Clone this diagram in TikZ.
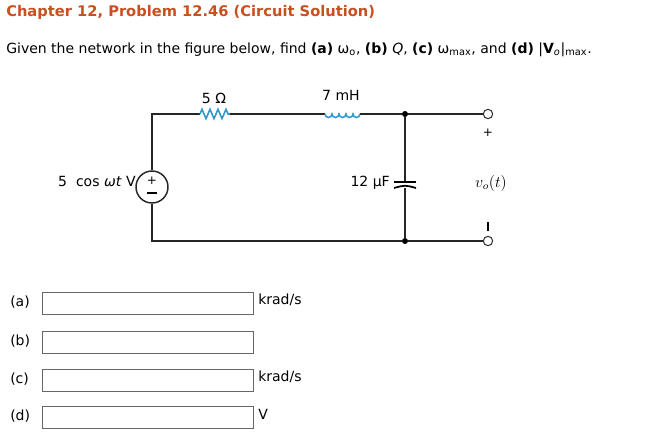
\documentclass[tikz,border=0pt]{standalone}
\usepackage{fontspec}
\setmainfont{DejaVu Sans}
\usetikzlibrary{decorations.pathmorphing}
\definecolor{ttl}{HTML}{C8501E}
\definecolor{comp}{HTML}{3399CC}
\begin{document}
\begin{tikzpicture}[x=0.75pt,y=-0.75pt,
  wire/.style={line width=1.3pt,black!85},
  lbl/.style={font=\fontsize{10.5}{12}\selectfont,inner sep=0},
  ansbox/.style={draw=black!60,line width=0.6pt,minimum width=158.25pt,minimum height=16.5pt,anchor=west,inner sep=0},
  term/.style={circle,draw=black!80,line width=0.8pt,fill=white,minimum size=7pt,inner sep=0},
  dotn/.style={circle,fill=black,minimum size=4.5pt,inner sep=0}]
\useasboundingbox (0,0) rectangle (665,443);
\node[anchor=west,text=ttl,font=\bfseries\fontsize{11}{13}\selectfont,inner sep=0] (title) at (6,12) {Chapter 12, Problem 12.46 (Circuit Solution)};
\node[anchor=west,font=\fontsize{10.5}{12}\selectfont,inner sep=0] (q) at (6,50) {Given the network in the figure below, find \textbf{(a)} ω\textsubscript{o}, \textbf{(b)} \textit{Q}, \textbf{(c)} ω\textsubscript{max}, and \textbf{(d)} |\textbf{V}\textsubscript{\textit{o}}|\textsubscript{max}.};
% circuit
\coordinate (tl) at (152,114); \coordinate (bl) at (152,241);
\node[dotn] (dt) at (405,114) {}; \node[dotn] (db) at (405,241) {};
\node[term] (tt) at (488,114) {}; \node[term] (tb) at (488,241) {};
\node[circle,draw=black!85,line width=1.1pt,minimum size=24pt,inner sep=0] (src) at (152,187) {};
\node[font=\fontsize{9}{10}\selectfont,inner sep=0] at (152,181) {+};
\draw[line width=0.9pt] (147,193) -- (157,193);
\coordinate (r1) at (200,114); \coordinate (r2) at (230,114);
\coordinate (l1) at (325,114); \coordinate (l2) at (360,114);
\draw[wire] (src.north) -- (tl) -- (r1);
\draw[comp,line width=1.2pt,decorate,decoration={zigzag,segment length=6,amplitude=3.5}] (r1) -- (r2);
\draw[wire] (r2) -- (l1);
\draw[comp,line width=1.2pt] (l1) \foreach \i in {0,...,4} { arc[start angle=180,end angle=0,radius=3.5] };
\draw[wire] (l2) -- (dt) -- (tt);
\draw[wire] (src.south) -- (bl) -- (db) -- (tb);
\coordinate (c1) at (405,182); \coordinate (c2) at (405,188);
\draw[wire] (dt) -- (c1); \draw[wire] (c2) -- (db);
\draw[line width=1.3pt] (394,182) -- (416,182);
\draw[line width=1.3pt] (394,188) .. controls (405,185) .. (416,188);
\node[lbl] (lr) at (214,98) {5 Ω};
\node[lbl] (ll) at (341,95) {7 mH};
\node[lbl,anchor=east] (lc) at (390,183) {12 μF};
\node[lbl,anchor=east] (ls) at (136,181) {5 \ cos \textit{ωt} V};
\node[font=\fontsize{9}{10}\selectfont,inner sep=0] at (488,133) {+};
\draw[line width=0.8pt] (488,222) -- (488,231);
\node[font=\fontsize{12}{14}\selectfont,inner sep=0] (vo) at (491,183) {$v_o(t)$};
% answers
\foreach \y/\l/\u in {302/a/krad\slash s,341/b/,379/c/krad\slash s,416/d/V}{
  \node[lbl,anchor=west] (lab\l) at (10,\y) {(\l)};
  \node[ansbox] (box\l) at (42,\y+1) {};
  \node[lbl,anchor=west] (u\l) at (258,\y-2) {\u};
}
\end{tikzpicture}
\end{document}
